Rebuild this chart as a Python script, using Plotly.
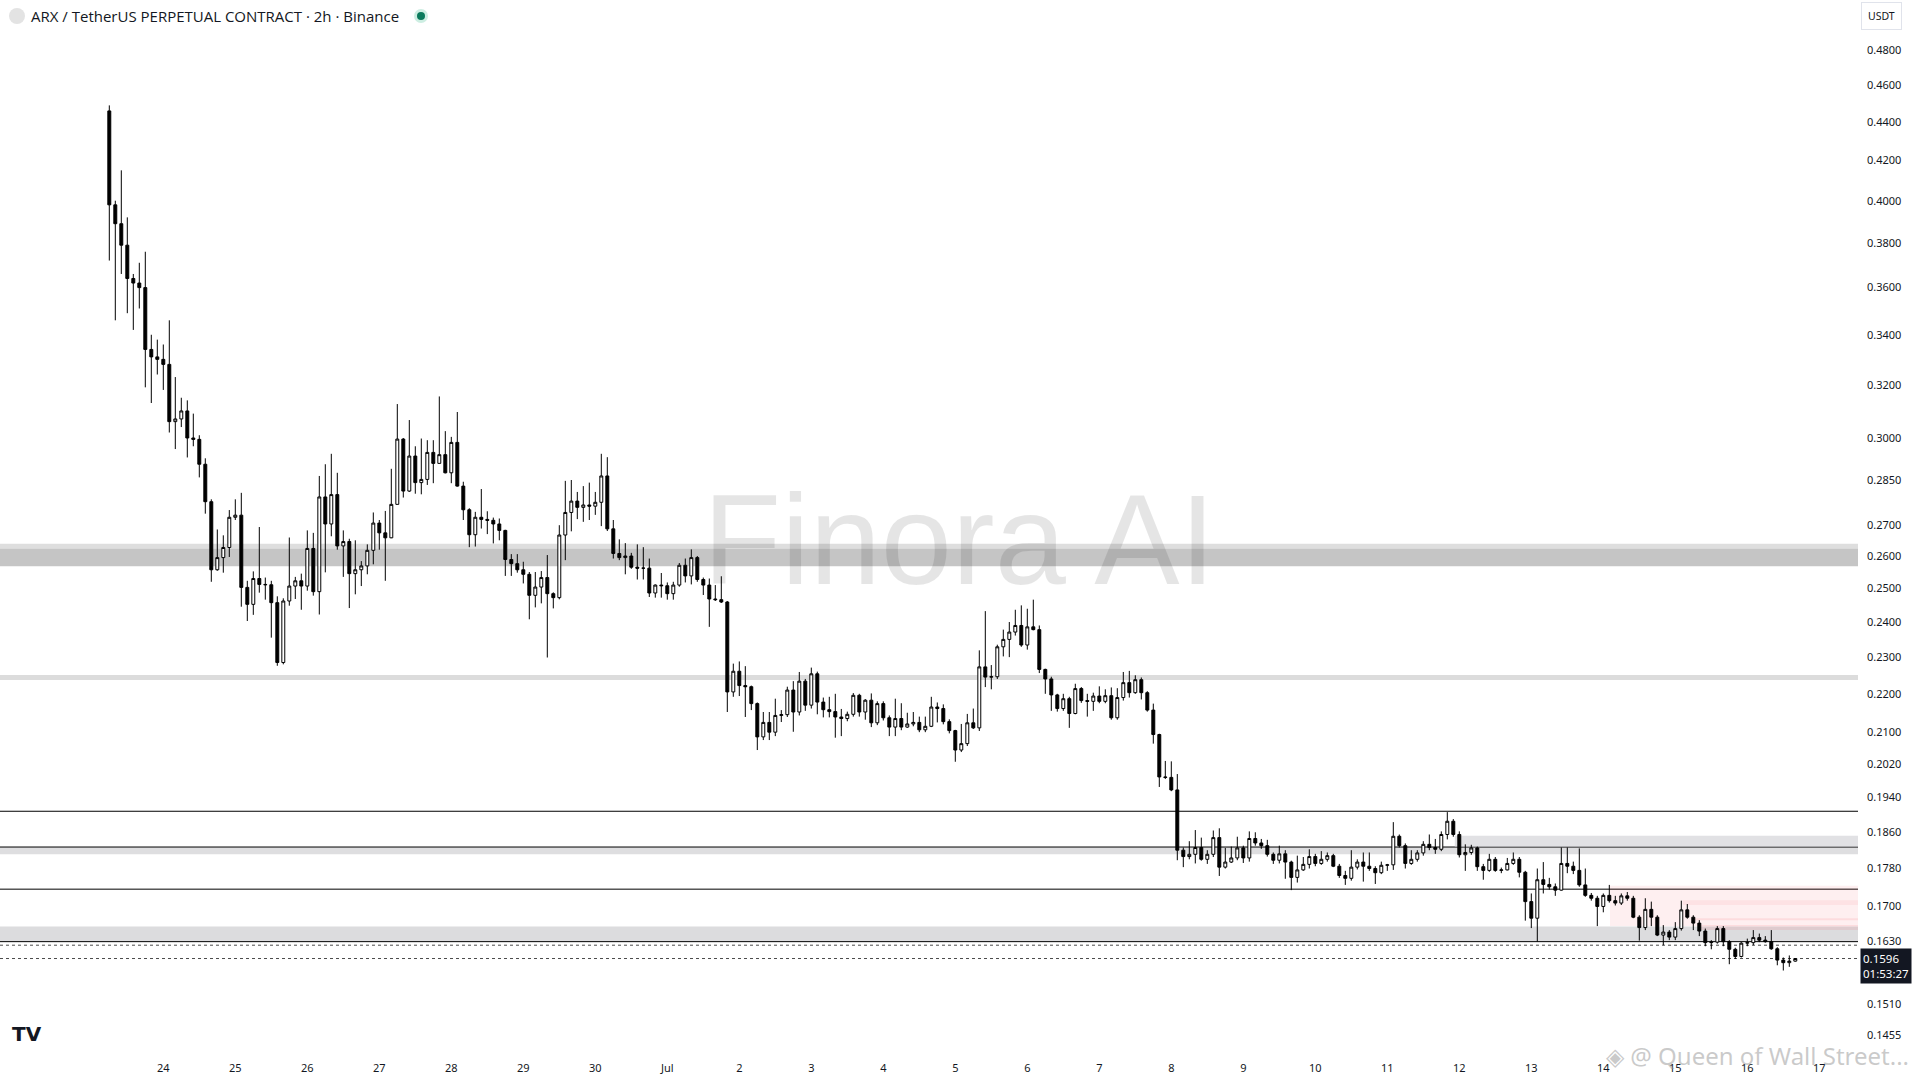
import math
import pandas as pd
import plotly.graph_objects as go

# ---------------- data (2h candles, ARX/USDT perp) ----------------
opens = [
    .446, .398, .389, .379, .364, .362, .360, .334, .331, .330,
    .328, .306, .307, .310, .300, .2995, .2906, .2777, .2557, .2595,
    .2627, .2725, .2732, .2503, .2452, .2530, .2512, .2511, .2457, .2285,
    .2462, .2507, .2523, .2507, .2624, .2490, .2793, .2703, .2801, .2632,
    .2646, .2545, .2557, .2569, .2618, .2706, .2674, .2658, .2768, .2996,
    .2813, .2935, .2842, .2853, .2948, .2909, .2940, .2876, .2984, .2830,
    .2750, .2668, .2725, .2718, .2715, .2703, .2682, .2589, .2576, .2557,
    .2543, .2479, .2504, .2533, .2484, .2472, .2667, .2741, .2779, .2758,
    .2766, .2762, .2775, .2865, .2687, .2608, .2595, .2600, .2565, .2562,
    .2562, .2486, .2510, .2508, .2484, .2510, .2571, .2538, .2595, .2527,
    .2510, .2468, .2466, .2459, .2205, .2261, .2222, .2219, .2174, .2088,
    .2125, .2100, .2143, .2145, .2210, .2152, .2234, .2170, .2254, .2178,
    .2158, .2153, .2139, .2135, .2146, .2196, .2152, .2183, .2124, .2174,
    .2137, .2113, .2135, .2113, .2121, .2125, .2106, .2115, .2165, .2161,
    .2127, .2104, .2055, .2071, .2124, .2111, .2273, .2245, .2246, .2329,
    .2350, .2371, .2390, .2334, .2386, .2378, .2266, .2240, .2197, .2161,
    .2187, .2148, .2214, .2182, .2180, .2194, .2180, .2195, .2137, .2190,
    .2230, .2203, .2238, .2203, .2157, .2094, .1989, .1988, .1958, .1820,
    .1806, .1811, .1826, .1800, .1811, .1848, .1783, .1794, .1803, .1825,
    .1803, .1846, .1836, .1830, .1811, .1798, .1812, .1794, .1761, .1777,
    .1789, .1806, .1791, .1800, .1808, .1785, .1765, .1759, .1783, .1794,
    .1785, .1780, .1771, .1787, .1788, .1851, .1830, .1791, .1800, .1814,
    .1833, .1826, .1822, .1855, .1885, .1855, .1810, .1815, .1825, .1784,
    .1776, .1800, .1776, .1777, .1791, .1800, .1772, .1710, .1676, .1756,
    .1746, .1741, .1734, .1791, .1785, .1776, .1745, .1723, .1717, .1700,
    .1723, .1712, .1707, .1722, .1717, .1678, .1657, .1694, .1678, .1642,
    .1648, .1638, .1655, .1693, .1678, .1666, .1650, .1627, .1628, .1655,
    .1629, .1614, .1600, .1626, .1627, .1637, .1632, .1629, .1615, .1593,
    .1588, .1591,
]
highs = [
    .449, .400, .415, .392, .366, .371, .376, .340, .338, .336,
    .346, .323, .315, .314, .309, .301, .2927, .2785, .2685, .2666,
    .2749, .2785, .2807, .2523, .2552, .2693, .2533, .2523, .2476, .2470,
    .2659, .2535, .2545, .2682, .2674, .2865, .2906, .2943, .2876, .2682,
    .2655, .2650, .2584, .2637, .2741, .2716, .2746, .2890, .3126, .3000,
    .3066, .2970, .2998, .2992, .2992, .3155, .3025, .3004, .3096, .2845,
    .2755, .2743, .2820, .2745, .2724, .2721, .2684, .2606, .2606, .2582,
    .2550, .2550, .2553, .2603, .2488, .2699, .2848, .2851, .2810, .2830,
    .2842, .2810, .2943, .2931, .2716, .2653, .2641, .2610, .2637, .2628,
    .2592, .2512, .2547, .2518, .2520, .2578, .2592, .2621, .2600, .2533,
    .2530, .2510, .2537, .2462, .2282, .2288, .2275, .2222, .2177, .2152,
    .2152, .2187, .2157, .2219, .2234, .2259, .2240, .2271, .2260, .2190,
    .2192, .2200, .2160, .2153, .2202, .2200, .2186, .2201, .2180, .2180,
    .2143, .2187, .2175, .2150, .2152, .2140, .2140, .2192, .2177, .2172,
    .2133, .2106, .2121, .2147, .2161, .2319, .2432, .2278, .2335, .2378,
    .2400, .2436, .2449, .2439, .2466, .2390, .2268, .2246, .2200, .2200,
    .2192, .2227, .2218, .2200, .2203, .2220, .2212, .2217, .2215, .2259,
    .2262, .2250, .2244, .2207, .2174, .2096, .2028, .2027, .1996, .1826,
    .1840, .1865, .1848, .1820, .1864, .1869, .1825, .1828, .1850, .1830,
    .1862, .1860, .1845, .1843, .1815, .1830, .1820, .1797, .1808, .1805,
    .1822, .1812, .1818, .1815, .1812, .1790, .1775, .1820, .1800, .1815,
    .1815, .1785, .1795, .1790, .1883, .1855, .1835, .1820, .1820, .1840,
    .1855, .1845, .1862, .1906, .1890, .1862, .1833, .1832, .1828, .1790,
    .1812, .1805, .1782, .1803, .1815, .1805, .1775, .1727, .1780, .1794,
    .1760, .1748, .1826, .1826, .1795, .1824, .1780, .1728, .1722, .1727,
    .1745, .1722, .1727, .1730, .1722, .1682, .1717, .1710, .1682, .1662,
    .1652, .1668, .1712, .1705, .1682, .1672, .1655, .1632, .1660, .1660,
    .1632, .1617, .1628, .1635, .1652, .1645, .1640, .1652, .1618, .1598,
    .1602, .1597,
]
lows = [
    .372, .346, .366, .349, .342, .351, .319, .313, .324, .318,
    .302, .296, .304, .293, .297, .286, .2737, .252, .2554, .2548,
    .2597, .2716, .2445, .2403, .2421, .2487, .2466, .2355, .2276, .2280,
    .2448, .2468, .2436, .2493, .2478, .2422, .2549, .2663, .2620, .2535,
    .2441, .2482, .2507, .2543, .2574, .2620, .2523, .2657, .2768, .2791,
    .2810, .2804, .2802, .2834, .2840, .2909, .2874, .2840, .2828, .2716,
    .2628, .2630, .2688, .2670, .2640, .2650, .2538, .2538, .2548, .2515,
    .2408, .2443, .2455, .2299, .2440, .2467, .2587, .2679, .2719, .2710,
    .2716, .2733, .2696, .2680, .2592, .2587, .2543, .2560, .2527, .2527,
    .2474, .2472, .2472, .2466, .2466, .2505, .2518, .2512, .2520, .2480,
    .2386, .2462, .2456, .2152, .2192, .2194, .2139, .2157, .2055, .2080,
    .2080, .2090, .2126, .2139, .2101, .2143, .2155, .2161, .2146, .2138,
    .2138, .2086, .2090, .2128, .2140, .2140, .2132, .2113, .2118, .2130,
    .2090, .2090, .2105, .2111, .2115, .2100, .2100, .2113, .2125, .2120,
    .2097, .2026, .2050, .2065, .2108, .2103, .2218, .2212, .2240, .2302,
    .2300, .2361, .2329, .2321, .2376, .2256, .2200, .2155, .2153, .2155,
    .2111, .2146, .2176, .2140, .2155, .2175, .2175, .2132, .2132, .2182,
    .2190, .2200, .2185, .2153, .2071, .1965, .1984, .1955, .1798, .1783,
    .1800, .1791, .1797, .1790, .1805, .1764, .1780, .1792, .1798, .1792,
    .1795, .1830, .1823, .1806, .1790, .1791, .1758, .1734, .1750, .1775,
    .1780, .1785, .1788, .1795, .1783, .1760, .1745, .1754, .1778, .1752,
    .1775, .1747, .1768, .1775, .1777, .1826, .1780, .1788, .1795, .1808,
    .1820, .1812, .1818, .1844, .1850, .1804, .1775, .1810, .1775, .1756,
    .1773, .1773, .1770, .1776, .1788, .1761, .1671, .1656, .1629, .1727,
    .1735, .1722, .1733, .1770, .1768, .1741, .1720, .1712, .1660, .1688,
    .1708, .1702, .1703, .1712, .1676, .1631, .1652, .1660, .1640, .1622,
    .1632, .1632, .1651, .1675, .1652, .1640, .1620, .1614, .1625, .1620,
    .1585, .1595, .1598, .1620, .1622, .1628, .1627, .1613, .1583, .1573,
    .1580, .1590,
]
closes = [
    .398, .389, .379, .364, .362, .360, .334, .331, .330, .328,
    .306, .307, .310, .300, .2995, .2906, .2777, .2557, .2595, .2627,
    .2725, .2732, .2503, .2452, .2530, .2512, .2511, .2457, .2285, .2462,
    .2507, .2523, .2507, .2624, .2490, .2793, .2703, .2801, .2632, .2646,
    .2545, .2557, .2569, .2618, .2706, .2674, .2658, .2768, .2996, .2813,
    .2935, .2842, .2853, .2948, .2909, .2940, .2876, .2984, .2830, .2750,
    .2668, .2725, .2718, .2715, .2703, .2682, .2589, .2576, .2557, .2543,
    .2479, .2504, .2533, .2484, .2472, .2667, .2741, .2779, .2758, .2766,
    .2762, .2775, .2865, .2687, .2608, .2595, .2600, .2565, .2562, .2562,
    .2486, .2510, .2508, .2484, .2510, .2571, .2538, .2595, .2527, .2510,
    .2468, .2466, .2459, .2205, .2261, .2222, .2219, .2174, .2088, .2125,
    .2100, .2143, .2145, .2210, .2152, .2234, .2170, .2254, .2178, .2158,
    .2153, .2139, .2135, .2146, .2196, .2152, .2183, .2124, .2174, .2137,
    .2113, .2135, .2113, .2121, .2125, .2106, .2115, .2165, .2161, .2127,
    .2104, .2055, .2071, .2124, .2111, .2273, .2245, .2246, .2329, .2350,
    .2371, .2390, .2334, .2386, .2378, .2266, .2240, .2197, .2161, .2187,
    .2148, .2214, .2182, .2180, .2194, .2180, .2195, .2137, .2190, .2230,
    .2203, .2238, .2203, .2157, .2094, .1989, .1988, .1958, .1820, .1806,
    .1811, .1826, .1800, .1811, .1848, .1783, .1794, .1803, .1825, .1803,
    .1846, .1836, .1830, .1811, .1798, .1812, .1794, .1761, .1777, .1789,
    .1806, .1791, .1800, .1808, .1785, .1765, .1759, .1783, .1794, .1785,
    .1780, .1771, .1787, .1788, .1851, .1830, .1791, .1800, .1814, .1833,
    .1826, .1822, .1855, .1885, .1855, .1810, .1815, .1825, .1784, .1776,
    .1800, .1776, .1777, .1791, .1800, .1772, .1710, .1676, .1756, .1746,
    .1741, .1734, .1791, .1785, .1776, .1745, .1723, .1717, .1700, .1723,
    .1712, .1707, .1722, .1717, .1678, .1657, .1694, .1678, .1642, .1648,
    .1638, .1655, .1693, .1678, .1666, .1650, .1627, .1628, .1655, .1629,
    .1614, .1600, .1626, .1627, .1637, .1632, .1629, .1615, .1593, .1588,
    .1591, .1596,
]
assert len(opens) == len(highs) == len(lows) == len(closes)

first_bar = "2025-06-23 06:00"
times = pd.date_range(first_bar, periods=len(closes), freq="2h")

day_ticks = ["2025-06-24", "2025-06-25", "2025-06-26", "2025-06-27", "2025-06-28",
             "2025-06-29", "2025-06-30", "2025-07-01", "2025-07-02", "2025-07-03",
             "2025-07-04", "2025-07-05", "2025-07-06", "2025-07-07", "2025-07-08",
             "2025-07-09", "2025-07-10", "2025-07-11", "2025-07-12", "2025-07-13",
             "2025-07-14", "2025-07-15", "2025-07-16", "2025-07-17"]
day_labels = ["24", "25", "26", "27", "28", "29", "30", "Jul", "2", "3", "4", "5",
              "6", "7", "8", "9", "10", "11", "12", "13", "14", "15", "16", "17"]

price_ticks = [0.48, 0.46, 0.44, 0.42, 0.40, 0.38, 0.36, 0.34, 0.32, 0.30, 0.285,
               0.27, 0.26, 0.25, 0.24, 0.23, 0.22, 0.21, 0.202, 0.194, 0.186,
               0.178, 0.17, 0.163, 0.151, 0.1455]
price_labels = [f"{v:.4f}" for v in price_ticks]

x_view = ["2025-06-21 17:34", "2025-07-17 12:54"]
y_view = [0.1425, 0.5102]

# horizontal levels drawn on the chart
level_lines = [0.1908, 0.1827, 0.1736, 0.1629]
gray_bands = [  # (low, high, colour)
    (0.2624, 0.2639, "#dedede"),
    (0.2568, 0.2624, "#c5c5c5"),
    (0.2237, 0.2251, "#dcdcdc"),
    (0.1811, 0.1827, "#dedee0"),
    (0.1629, 0.1659, "#dcdcde"),
]
right_zones = [  # (start time, low, high, colour)
    ("2025-07-11 22:30", 0.1827, 0.1852, "rgba(200,200,205,0.55)"),
    ("2025-07-14 02:15", 0.1660, 0.1743, "rgba(242,54,69,0.08)"),
    ("2025-07-15 02:30", 0.1703, 0.1713, "rgba(242,54,69,0.07)"),
    ("2025-07-15 06:00", 0.1672, 0.1676, "rgba(242,54,69,0.10)"),
    ("2025-07-15 08:15", 0.1652, 0.1662, "rgba(242,54,69,0.10)"),
]
dotted_lines = [0.1622, closes[-1]]

# ---------------- figure ----------------
fig = go.Figure()
fig.add_trace(go.Candlestick(
    x=times, open=opens, high=highs, low=lows, close=closes,
    increasing=dict(line=dict(color="#000000", width=1), fillcolor="#ffffff"),
    decreasing=dict(line=dict(color="#000000", width=1), fillcolor="#000000"),
    whiskerwidth=0, hoverinfo="skip", showlegend=False,
))

shapes = []
for lo, hi, col in gray_bands:
    shapes.append(dict(type="rect", xref="paper", yref="y", x0=0, x1=1, y0=lo, y1=hi,
                       fillcolor=col, line=dict(width=0), layer="below"))
for t0, lo, hi, col in right_zones:
    shapes.append(dict(type="rect", xref="x", yref="y", x0=t0, x1=x_view[1], y0=lo, y1=hi,
                       fillcolor=col, line=dict(width=0), layer="below"))
for v in level_lines:
    shapes.append(dict(type="line", xref="paper", yref="y", x0=0, x1=1, y0=v, y1=v,
                       line=dict(color="#000000", width=1), layer="below"))
for v in dotted_lines:
    shapes.append(dict(type="line", xref="paper", yref="y", x0=0, x1=1, y0=v, y1=v,
                       line=dict(color="#4a4a4a", width=1, dash="dot"), layer="below"))

# title icons (pixel-sized circles)
def dot(px, py, r, col):
    return dict(type="circle", xref="paper", yref="paper", xsizemode="pixel", ysizemode="pixel",
                xanchor=0, yanchor=1, x0=px - r, x1=px + r, y0=-py - r, y1=-py + r,
                fillcolor=col, line=dict(width=0))

shapes.append(dot(17, 16, 8, "#e3e3e3"))
shapes.append(dot(421, 16, 7, "#cdeee2"))
shapes.append(dot(421, 16, 4, "#0b7a5c"))

annotations = [
    dict(text="ARX / TetherUS PERPETUAL CONTRACT · 2h · Binance", xref="paper", yref="paper",
         x=0, y=1, xshift=29, yshift=-16, xanchor="left", yanchor="middle", showarrow=False,
         font=dict(family="Open Sans", size=15, color="#131722")),
    dict(text="Finora AI", xref="paper", yref="paper", x=0.516, y=0.4876,
         xanchor="center", yanchor="middle", showarrow=False,
         font=dict(family="Liberation Sans", size=128, color="rgba(0,0,0,0.10)")),
    dict(text="USDT", xref="paper", yref="paper", x=1, y=1, xshift=3, yshift=-16,
         xanchor="left", yanchor="middle", showarrow=False, bgcolor="#ffffff",
         bordercolor="#e0e3eb", borderwidth=1, borderpad=6,
         font=dict(family="Noto Sans", size=10.5, color="#131722")),
    dict(text=f"{closes[-1]:.4f}<br>01:53:27", xref="paper", yref="y", x=1, y=math.log10(closes[-1]),
         xshift=2, yshift=-7, xanchor="left", yanchor="middle", showarrow=False, align="left",
         bgcolor="#131722", borderpad=2,
         font=dict(family="Noto Sans", size=11.5, color="#ffffff")),
    dict(text="◈ @ Queen of Wall Street...", xref="paper", yref="paper", x=1604 / 1858, y=0,
         yshift=-3, xanchor="left", yanchor="middle", showarrow=False,
         font=dict(family="Noto Sans", size=24, color="rgba(150,150,150,0.5)")),
    dict(text="<b>TV</b>", xref="paper", yref="paper", x=0, y=0, xshift=10, yshift=18,
         xanchor="left", yanchor="middle", showarrow=False,
         font=dict(family="DejaVu Sans", size=20, color="#131722")),
]

fig.update_layout(
    width=1920, height=1080,
    margin=dict(l=0, r=62, t=0, b=28),
    paper_bgcolor="#ffffff", plot_bgcolor="#ffffff",
    showlegend=False, hovermode=False,
    shapes=shapes, annotations=annotations,
    xaxis=dict(type="date", range=x_view, rangeslider=dict(visible=False),
               showgrid=False, zeroline=False, showline=False,
               tickmode="array", tickvals=day_ticks, ticktext=day_labels, ticks="",
               ticklabelstandoff=8,
               tickfont=dict(family="Noto Sans", size=11, color="#131722")),
    yaxis=dict(type="log", range=[math.log10(y_view[0]), math.log10(y_view[1])],
               side="right", showgrid=False, zeroline=False, showline=False,
               tickmode="array", tickvals=price_ticks, ticktext=price_labels, ticks="",
               ticklabelstandoff=8,
               tickfont=dict(family="Noto Sans", size=11, color="#131722")),
)

fig.write_html("out.html", config={"displayModeBar": False, "staticPlot": True},
               post_script="document.body.style.margin='0';document.body.style.padding='0';"
                           "document.body.style.overflow='hidden';")
